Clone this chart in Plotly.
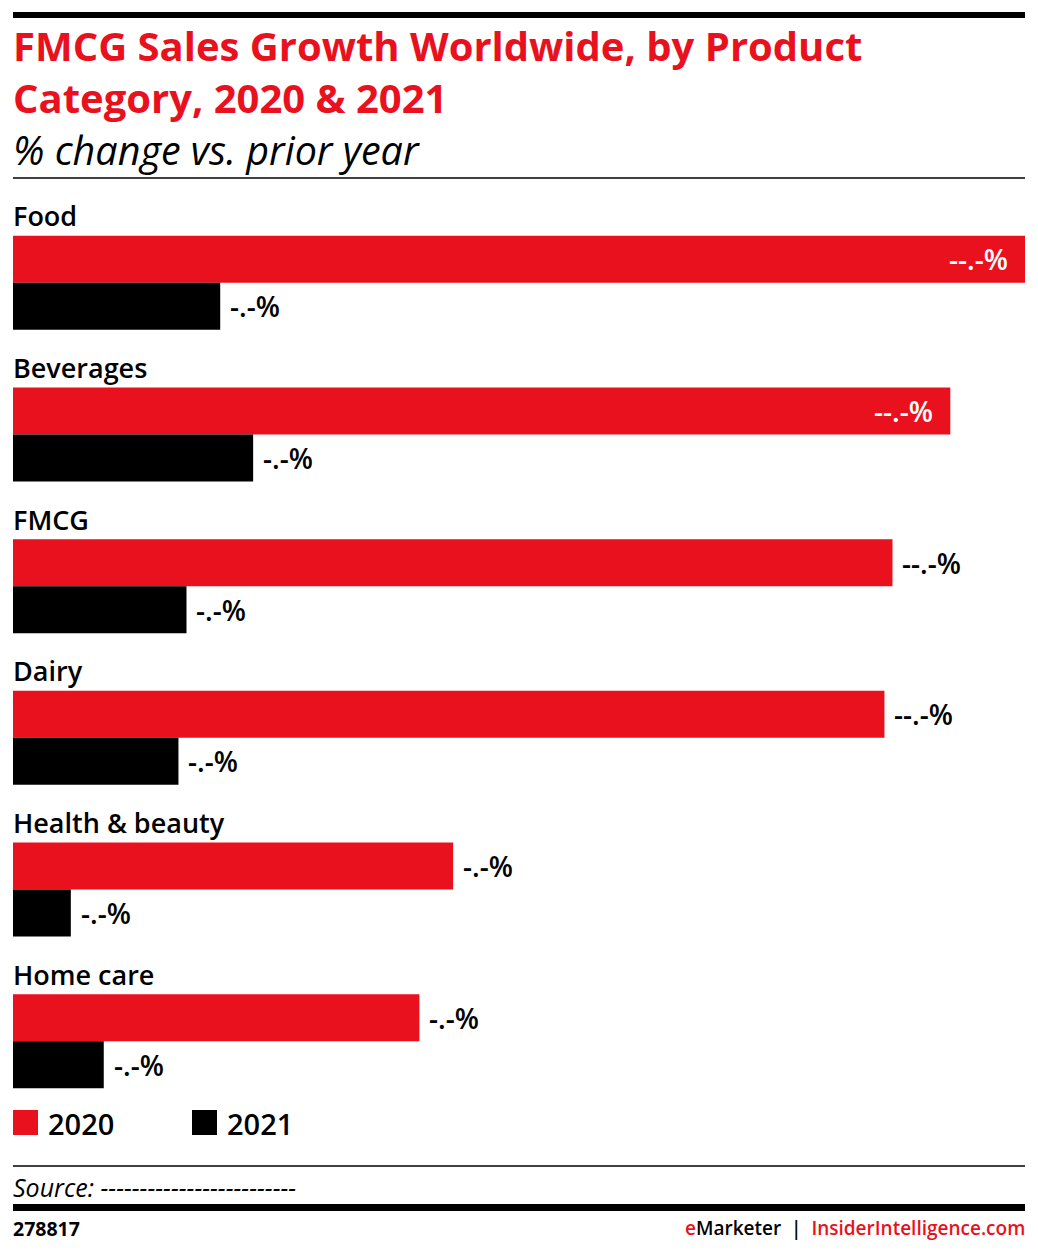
import plotly.graph_objects as go

# ---- data ----
categories = ["Food", "Beverages", "FMCG", "Dairy", "Health & beauty", "Home care"]
series_names = ["2020", "2021"]
values_2020 = [12.6, 11.67, 10.95, 10.85, 5.48, 5.06]
values_2021 = [2.58, 2.99, 2.16, 2.06, 0.72, 1.13]
labels_2020 = ["--.-%", "--.-%", "--.-%", "--.-%", "-.-%", "-.-%"]
labels_2021 = ["-.-%", "-.-%", "-.-%", "-.-%", "-.-%", "-.-%"]
inside_2020 = [True, True, False, False, False, False]

title_lines = ["FMCG Sales Growth Worldwide, by Product", "Category, 2020 & 2021"]
subtitle = "% change vs. prior year"
source_text = "Source: -------------------------"
chart_id = "278817"

RED = "#E9111D"
BLACK = "#000000"
FONT = "Open Sans"

OFF = 8  # page offset of the figure inside the browser window
W, H = 1038 - OFF, 1253 - OFF
ML, MR, MT, MB = 13 - OFF, 13, 207 - OFF, 136
PW = W - ML - MR
PH = H - MT - MB


def py(y):
    return (H - MB - (y - OFF)) / PH


def px(x):
    return ((x - OFF) - ML) / PW


fig = go.Figure()
fig.add_trace(go.Bar(y=categories, x=values_2020, name=series_names[0], orientation="h",
                     marker=dict(color=RED, line=dict(width=0)), hoverinfo="skip"))
fig.add_trace(go.Bar(y=categories, x=values_2021, name=series_names[1], orientation="h",
                     marker=dict(color=BLACK, line=dict(width=0)), hoverinfo="skip"))

ann = []
bar_px = PH / len(categories) * (1 - 0.38) / 2
VAL_SIZE = 28
for i, c in enumerate(categories):
    ann.append(dict(x=px(11), xref="paper", y=c, yref="y", yshift=bar_px + 20, text=c,
                    showarrow=False, xanchor="left", yanchor="middle",
                    font=dict(family=FONT, size=27, color=BLACK, weight=600)))
    if inside_2020[i]:
        ann.append(dict(x=values_2020[i], xref="x", y=c, yref="y", yshift=bar_px / 2,
                        xshift=-15, text=labels_2020[i], showarrow=False, xanchor="right",
                        yanchor="middle", font=dict(family=FONT, size=VAL_SIZE, color="white", weight=600)))
    else:
        ann.append(dict(x=values_2020[i], xref="x", y=c, yref="y", yshift=bar_px / 2,
                        xshift=8, text=labels_2020[i], showarrow=False, xanchor="left",
                        yanchor="middle", font=dict(family=FONT, size=VAL_SIZE, color=BLACK, weight=600)))
    ann.append(dict(x=values_2021[i], xref="x", y=c, yref="y", yshift=-bar_px / 2,
                    xshift=8, text=labels_2021[i], showarrow=False, xanchor="left",
                    yanchor="middle", font=dict(family=FONT, size=VAL_SIZE, color=BLACK, weight=600)))

# titles (one two-line text block)
ann.append(dict(x=px(11), xref="paper", y=py(71), yref="paper", text="<br>".join(title_lines), showarrow=False,
                xanchor="left", yanchor="middle", align="left",
                font=dict(family=FONT, size=40, color=RED, weight="bold")))
ann.append(dict(x=px(11), xref="paper", y=py(150), yref="paper", text="<i>" + subtitle + "</i>", showarrow=False,
                xanchor="left", yanchor="middle", font=dict(family=FONT, size=39.5, color=BLACK)))

# legend
leg_x = [13, 192]
shapes = []
for j, nm in enumerate(series_names):
    col = RED if j == 0 else BLACK
    shapes.append(dict(type="rect", xref="paper", yref="paper", x0=px(leg_x[j]), x1=px(leg_x[j] + 25),
                       y0=py(1135), y1=py(1110), fillcolor=col, line=dict(width=0)))
    ann.append(dict(x=px(leg_x[j] + 33), xref="paper", y=py(1123), yref="paper", text=nm, showarrow=False,
                    xanchor="left", yanchor="middle", font=dict(family=FONT, size=29, color=BLACK, weight=600)))

# rules
shapes.append(dict(type="rect", xref="paper", yref="paper", x0=px(13), x1=px(1025), y0=py(18), y1=py(12),
                   fillcolor=BLACK, line=dict(width=0)))
shapes.append(dict(type="line", xref="paper", yref="paper", x0=px(13), x1=px(1025), y0=py(178), y1=py(178),
                   line=dict(color=BLACK, width=1.5)))
shapes.append(dict(type="line", xref="paper", yref="paper", x0=px(13), x1=px(1025), y0=py(1166), y1=py(1166),
                   line=dict(color=BLACK, width=1.5)))
shapes.append(dict(type="rect", xref="paper", yref="paper", x0=px(13), x1=px(1025), y0=py(1211), y1=py(1204),
                   fillcolor=BLACK, line=dict(width=0)))

# footer
ann.append(dict(x=px(11), xref="paper", y=py(1187), yref="paper", text="<i>" + source_text + "</i>", showarrow=False,
                xanchor="left", yanchor="middle", font=dict(family=FONT, size=25, color=BLACK)))
ann.append(dict(x=px(11), xref="paper", y=py(1228), yref="paper", text="<b>" + chart_id + "</b>", showarrow=False,
                xanchor="left", yanchor="middle", font=dict(family=FONT, size=19.5, color=BLACK)))
ann.append(dict(x=px(1027), xref="paper", y=py(1228), yref="paper",
                text=f"<span style='color:{RED}'>e</span>Marketer  |  <span style='color:{RED}'>InsiderIntelligence.com</span>",
                showarrow=False, xanchor="right", yanchor="middle",
                font=dict(family=FONT, size=19, color=BLACK, weight=600)))

fig.update_layout(
    width=W, height=H,
    margin=dict(l=ML, r=MR, t=MT, b=MB, pad=0),
    paper_bgcolor="white", plot_bgcolor="white",
    barmode="group", bargap=0.38, bargroupgap=0,
    showlegend=False,
    xaxis=dict(range=[0, max(values_2020)], visible=False, fixedrange=True),
    yaxis=dict(autorange=False, range=[len(categories) - 0.5, -0.5], visible=False, fixedrange=True),
    annotations=ann, shapes=shapes,
    font=dict(family=FONT),
)

fig.write_html("out.html", config={"displayModeBar": False})
